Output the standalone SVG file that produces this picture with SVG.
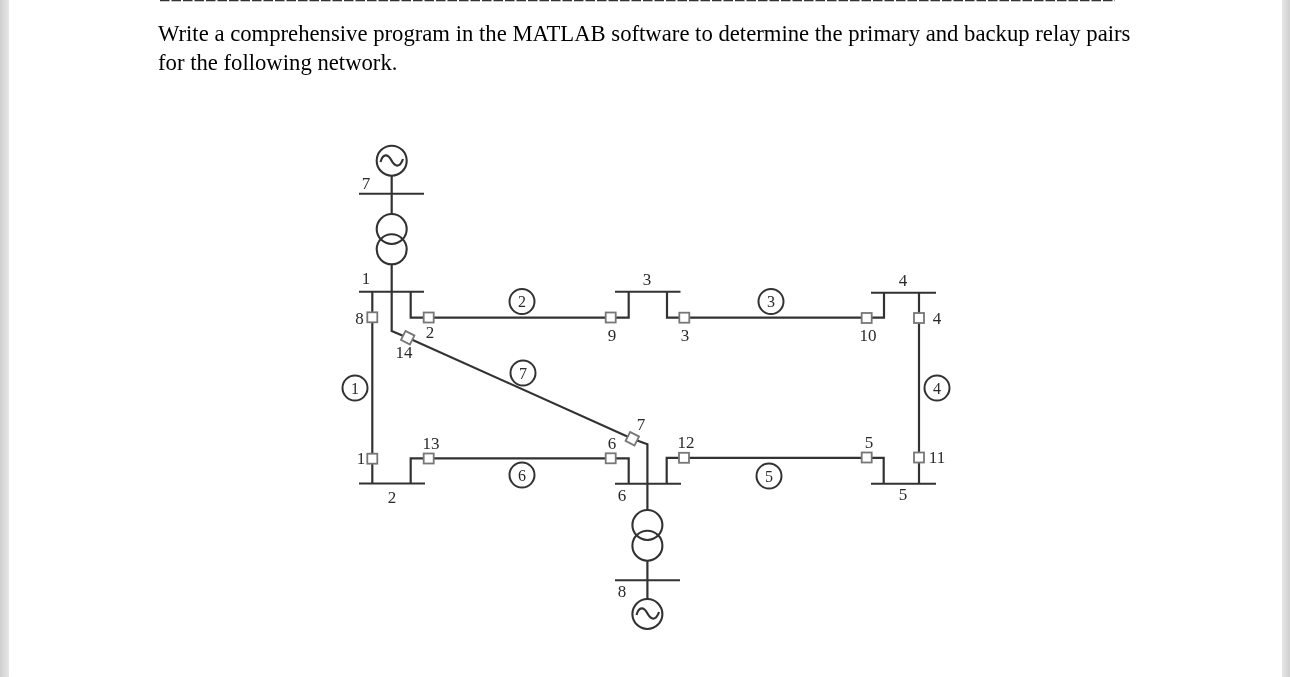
<svg xmlns="http://www.w3.org/2000/svg" width="1290" height="677" viewBox="0 0 1290 677">
<style>
.head{font-family:"Liberation Serif","Times New Roman",serif;font-size:22.7px;fill:#000}
.lb{font-family:"Liberation Serif","Times New Roman",serif;font-size:17px;fill:#2a2a2a;text-anchor:middle}
.cn{font-family:"Liberation Serif","Times New Roman",serif;font-size:16px;fill:#2a2a2a;text-anchor:middle}
.w{fill:none;stroke:#333;stroke-width:2.2}
.bus{fill:none;stroke:#333;stroke-width:2}
.ring{fill:none;stroke:#333;stroke-width:2.1}
.tag{fill:#fff;stroke:#333;stroke-width:2}
.relay{fill:#fff;stroke:#777;stroke-width:1.8}
</style>
<defs>
<filter id="soft" filterUnits="userSpaceOnUse" x="0" y="0" width="1290" height="677"><feGaussianBlur stdDeviation="0.45"/></filter>
<linearGradient id="lg" x1="0" x2="1" y1="0" y2="0"><stop offset="0" stop-color="#cfcfcf"/><stop offset="1" stop-color="#e6e6e6"/></linearGradient>
<linearGradient id="rg" x1="0" x2="1" y1="0" y2="0"><stop offset="0" stop-color="#e6e6e6"/><stop offset="1" stop-color="#cfcfcf"/></linearGradient>
<rect id="r" class="relay" x="-5" y="-5" width="10" height="10"/>
</defs>
<rect width="1290" height="677" fill="#fff"/>
<rect id="left-edge" x="0" y="0" width="9" height="677" fill="url(#lg)"/>
<rect id="right-edge" x="1282" y="0" width="8" height="677" fill="url(#rg)"/>
<g filter="url(#soft)">
<path id="top-rule" d="M160 0H1115" fill="none" stroke="#333" stroke-width="2.4" stroke-dasharray="9.5 2"/>
<g id="heading">
<text class="head" x="158" y="41">Write a comprehensive program in the MATLAB software to determine the primary and backup relay pairs</text>
<text class="head" x="158" y="69.500">for the following network.</text>
</g>
<g id="connectors">
<path class="w" d="M391.7 175.7V214M391.7 264.3V331L407.7 337.700L632.3 438.7L647.4 444.3V510M647.4 560.7V599"/>
<path class="w" d="M372.3 291.7V483.5"/>
<path class="w" d="M410.7 291.7V317.7H628.7V291.7"/>
<path class="w" d="M667 291.7V317.7H884V292.7"/>
<path class="w" d="M919 292.7V483.7"/>
<path class="w" d="M410.7 483.500V458.3H628.7V483.7"/>
<path class="w" d="M666.7 483.7V457.8H883.7V483.7"/>
</g>
<g id="bus-7"><path class="bus" d="M359 193.7H424"/><text class="lb" x="366" y="189">7</text></g>
<g id="bus-1"><path class="bus" d="M359 291.7H424"/><text class="lb" x="366" y="284">1</text></g>
<g id="bus-2"><path class="bus" d="M359 483.5H425"/><text class="lb" x="392" y="503">2</text></g>
<g id="bus-3"><path class="bus" d="M615 291.7H680.5"/><text class="lb" x="647" y="285">3</text></g>
<g id="bus-4"><path class="bus" d="M871 292.7H936"/><text class="lb" x="903" y="286">4</text></g>
<g id="bus-5"><path class="bus" d="M871 483.7H936"/><text class="lb" x="903" y="500">5</text></g>
<g id="bus-6"><path class="bus" d="M615 483.700H681"/><text class="lb" x="622" y="501">6</text></g>
<g id="bus-8"><path class="bus" d="M615 580.300H680"/><text class="lb" x="622" y="597">8</text></g>
<g id="gen-top"><circle class="ring" cx="391.7" cy="160.7" r="15"/><path class="w" d="M380.500 162C383 153 388 154 391.500 160.500C395 167 400 168 403 159"/></g>
<g id="gen-bottom"><circle class="ring" cx="647.4" cy="614" r="15"/><path class="w" d="M636.500 615C639 606 644 607 647.500 613.500C651 620 656 621 659 612"/></g>
<g id="xfmr-top"><circle class="ring" cx="391.7" cy="229" r="15"/><circle class="ring" cx="391.7" cy="249.300" r="15"/></g>
<g id="xfmr-bottom"><circle class="ring" cx="647.4" cy="525" r="15"/><circle class="ring" cx="647.4" cy="545.700" r="15"/></g>
<g id="relay-8"><use href="#r" x="372.3" y="317.3"/><text class="lb" x="359.500" y="324">8</text></g>
<g id="relay-2"><use href="#r" x="428.7" y="317.5"/><text class="lb" x="430" y="338">2</text></g>
<g id="relay-14"><rect class="relay" x="-5" y="-5" width="10" height="10" transform="translate(407.7 337.7) rotate(27)"/><text class="lb" x="404" y="358">14</text></g>
<g id="relay-9"><use href="#r" x="610.7" y="317.5"/><text class="lb" x="612" y="341">9</text></g>
<g id="relay-3"><use href="#r" x="684.3" y="317.7"/><text class="lb" x="685" y="341">3</text></g>
<g id="relay-10"><use href="#r" x="866.7" y="318"/><text class="lb" x="868" y="341">10</text></g>
<g id="relay-4"><use href="#r" x="919" y="318"/><text class="lb" x="937" y="324">4</text></g>
<g id="relay-1"><use href="#r" x="372.3" y="458.7"/><text class="lb" x="361" y="464">1</text></g>
<g id="relay-13"><use href="#r" x="428.7" y="458.5"/><text class="lb" x="431" y="449">13</text></g>
<g id="relay-6"><use href="#r" x="610.7" y="458.300"/><text class="lb" x="612" y="449">6</text></g>
<g id="relay-7"><rect class="relay" x="-5" y="-5" width="10" height="10" transform="translate(632.3 438.7) rotate(27)"/><text class="lb" x="641" y="430">7</text></g>
<g id="relay-12"><use href="#r" x="684" y="457.800"/><text class="lb" x="686" y="448">12</text></g>
<g id="relay-5"><use href="#r" x="866.7" y="457.5"/><text class="lb" x="869" y="448">5</text></g>
<g id="relay-11"><use href="#r" x="919" y="457.500"/><text class="lb" x="937" y="463">11</text></g>
<g id="line-1"><circle class="tag" cx="355" cy="388" r="12.5"/><text class="cn" x="355" y="393.500">1</text></g>
<g id="line-2"><circle class="tag" cx="522" cy="301.500" r="12.5"/><text class="cn" x="522" y="307">2</text></g>
<g id="line-3"><circle class="tag" cx="771" cy="301.500" r="12.5"/><text class="cn" x="771" y="307">3</text></g>
<g id="line-4"><circle class="tag" cx="937" cy="388" r="12.5"/><text class="cn" x="937" y="393.500">4</text></g>
<g id="line-5"><circle class="tag" cx="769" cy="476" r="12.5"/><text class="cn" x="769" y="481.500">5</text></g>
<g id="line-6"><circle class="tag" cx="522" cy="475" r="12.5"/><text class="cn" x="522" y="480.500">6</text></g>
<g id="line-7"><circle class="tag" cx="523" cy="373" r="12.5"/><text class="cn" x="523" y="378.500">7</text></g>
</g>
</svg>
